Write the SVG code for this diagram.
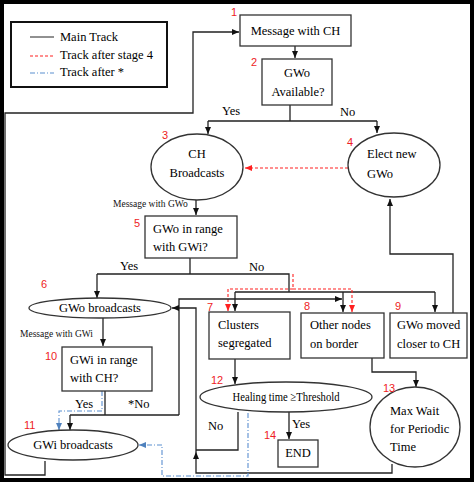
<svg xmlns="http://www.w3.org/2000/svg" width="474" height="482" viewBox="0 0 474 482">
<style>
.t{font-family:"Liberation Serif","Times New Roman",serif;font-size:12.5px;fill:#000}
.s{font-family:"Liberation Serif","Times New Roman",serif;font-size:9.5px;fill:#111}
.n{font-family:"Liberation Sans",Arial,sans-serif;font-size:11px;fill:#ee1c24}
.box{fill:#fff;stroke:#333;stroke-width:1.3}
.c{fill:none;stroke:#222;stroke-width:1.3}
.r{fill:none;stroke:#ff2020;stroke-width:1.1;stroke-dasharray:3,2}
.b{fill:none;stroke:#5b8fd0;stroke-width:1.1;stroke-dasharray:5,2,1,2}
</style>
<defs>
<marker id="ab" markerWidth="8" markerHeight="8" refX="7" refY="4" orient="auto" markerUnits="userSpaceOnUse"><path d="M0,1 L7,4 L0,7 z" fill="#111"/></marker>
<marker id="ar" markerWidth="8" markerHeight="8" refX="7" refY="4" orient="auto" markerUnits="userSpaceOnUse"><path d="M0,1 L7,4 L0,7 z" fill="#ff2020"/></marker>
<marker id="abl" markerWidth="8" markerHeight="8" refX="7" refY="4" orient="auto" markerUnits="userSpaceOnUse"><path d="M0,1 L7,4 L0,7 z" fill="#4f81bd"/></marker>
</defs>
<rect x="0" y="0" width="474" height="482" fill="#fff"/>
<rect x="2" y="2" width="470" height="478" fill="none" stroke="#000" stroke-width="4"/>

<g id="legend">
<rect x="11" y="22" width="156" height="65" fill="#fff" stroke="#111" stroke-width="2"/>
<line x1="30" y1="37" x2="54" y2="37" stroke="#222" stroke-width="1"/>
<text class="t" x="60" y="41">Main Track</text>
<line x1="30" y1="56" x2="54" y2="56" class="r"/>
<text class="t" x="60" y="59">Track after stage 4</text>
<line x1="30" y1="73" x2="54" y2="73" class="b"/>
<text class="t" x="60" y="76">Track after *</text>
</g>

<g id="connectors">
<path class="c" d="M45,461 V475 H5 V113 H193 V32 H239" marker-end="url(#ab)"/>
<path class="c" d="M295,46 V58" marker-end="url(#ab)"/>
<path class="c" d="M290,105 V121 M208,121 H377"/>
<path class="c" d="M208,121 V134" marker-end="url(#ab)"/>
<path class="c" d="M377,121 V133" marker-end="url(#ab)"/>
<path class="r" d="M348,168 H245" marker-end="url(#ar)"/>
<path class="c" d="M196,200 V215" marker-end="url(#ab)"/>
<path class="c" d="M190,258 V274 M97,274 H289 V292 M235,292 H435"/>
<path class="c" d="M97,274 V298" marker-end="url(#ab)"/>
<path class="c" d="M235,292 V311" marker-end="url(#ab)"/>
<path class="c" d="M343,292 V312" marker-end="url(#ab)"/>
<path class="c" d="M435,292 V312" marker-end="url(#ab)"/>
<path class="r" d="M293,274 V289 H228 V311" marker-end="url(#ar)"/>
<path class="r" d="M293,289 H352 V312" marker-end="url(#ar)"/>
<path class="c" d="M103,318 V346" marker-end="url(#ab)"/>
<path class="c" d="M105,391 V415 M70,415 H179"/>
<path class="c" d="M70,415 V430" marker-end="url(#ab)"/>
<path class="c" d="M179,415 V299 H342" marker-end="url(#ab)"/>
<path class="c" d="M392,464 V473 H196 V452" marker-end="url(#ab)"/>
<path class="c" d="M196,452 V308 H172" marker-end="url(#ab)"/>
<path class="c" d="M238,412 V450 H196"/>
<path class="c" d="M235,359 V384" marker-end="url(#ab)"/>
<path class="c" d="M372,358 V372 H416 V387" marker-end="url(#ab)"/>
<path class="c" d="M289,412 V439" marker-end="url(#ab)"/>
<path class="c" d="M453,313 V254 H390 V199" marker-end="url(#ab)"/>
<path class="b" d="M102,391 V411 H59 V430" marker-end="url(#abl)"/>
<path class="b" d="M248,413 V476 H162 V445 H139" marker-end="url(#abl)"/>
<text class="t" x="222" y="115">Yes</text>
<text class="t" x="340" y="116">No</text>
<text class="s" x="113" y="207">Message with GWo</text>
<text class="t" x="120" y="270">Yes</text>
<text class="t" x="249" y="271">No</text>
<text class="s" x="20" y="337">Message with GWi</text>
<text class="t" x="75" y="408">Yes</text>
<text class="t" x="128" y="408">*No</text>
<text class="t" x="208" y="430">No</text>
<text class="t" x="292" y="428">Yes</text>
</g>

<g id="n1"><rect class="box" x="240" y="15" width="111" height="31"/><text class="t" x="295.5" y="35" text-anchor="middle">Message with CH</text><text class="n" x="231" y="16">1</text></g>
<g id="n2"><rect class="box" x="262" y="59" width="70" height="46"/><text class="t" x="297" y="77" text-anchor="middle">GWo</text><text class="t" x="298" y="96" text-anchor="middle">Available?</text><text class="n" x="251" y="66">2</text></g>
<g id="n3"><ellipse class="box" cx="197" cy="167" rx="46" ry="33"/><text class="t" x="197" y="158" text-anchor="middle">CH</text><text class="t" x="197" y="177" text-anchor="middle">Broadcasts</text><text class="n" x="162" y="139">3</text></g>
<g id="n4"><ellipse class="box" cx="394" cy="165" rx="46" ry="32"/><text class="t" x="367" y="158">Elect new</text><text class="t" x="367" y="178">GWo</text><text class="n" x="347" y="146">4</text></g>
<g id="n5"><rect class="box" x="145" y="216" width="92" height="42"/><text class="t" x="153" y="233">GWo in range</text><text class="t" x="153" y="251">with GWi?</text><text class="n" x="134" y="227">5</text></g>
<g id="n6"><ellipse class="box" cx="100" cy="308" rx="71" ry="10"/><text class="t" x="100" y="312" text-anchor="middle">GWo broadcasts</text><text class="n" x="41" y="288">6</text></g>
<g id="n7"><rect class="box" x="209" y="312" width="81" height="47"/><text class="t" x="218" y="329">Clusters</text><text class="t" x="218" y="347">segregated</text><text class="n" x="207" y="311">7</text></g>
<g id="n8"><rect class="box" x="301" y="313" width="83" height="45"/><text class="t" x="310" y="329">Other nodes</text><text class="t" x="310" y="348">on border</text><text class="n" x="304" y="310">8</text></g>
<g id="n9"><rect class="box" x="390" y="313" width="77" height="45"/><text class="t" x="397" y="329">GWo moved</text><text class="t" x="397" y="348">closer to CH</text><text class="n" x="395" y="310">9</text></g>
<g id="n10"><rect class="box" x="62" y="347" width="90" height="44"/><text class="t" x="70" y="364">GWi in range</text><text class="t" x="70" y="382">with CH?</text><text class="n" x="45" y="360">10</text></g>
<g id="n11"><ellipse class="box" cx="73" cy="445" rx="65" ry="15"/><text class="t" x="73" y="449" text-anchor="middle">GWi broadcasts</text><text class="n" x="24" y="429">11</text></g>
<g id="n12"><ellipse class="box" cx="286" cy="397" rx="86" ry="15"/><text class="t" x="286" y="401" text-anchor="middle" textLength="107" lengthAdjust="spacingAndGlyphs">Healing time ≥Threshold</text><text class="n" x="211" y="384">12</text></g>
<g id="n13"><ellipse class="box" cx="415" cy="427" rx="45" ry="40"/><text class="t" x="390" y="415">Max Wait</text><text class="t" x="390" y="433">for Periodic</text><text class="t" x="390" y="451">Time</text><text class="n" x="383" y="392">13</text></g>
<g id="n14"><rect class="box" x="278" y="440" width="40" height="27"/><text class="t" x="298" y="457" text-anchor="middle">END</text><text class="n" x="264" y="439">14</text></g>
</svg>
